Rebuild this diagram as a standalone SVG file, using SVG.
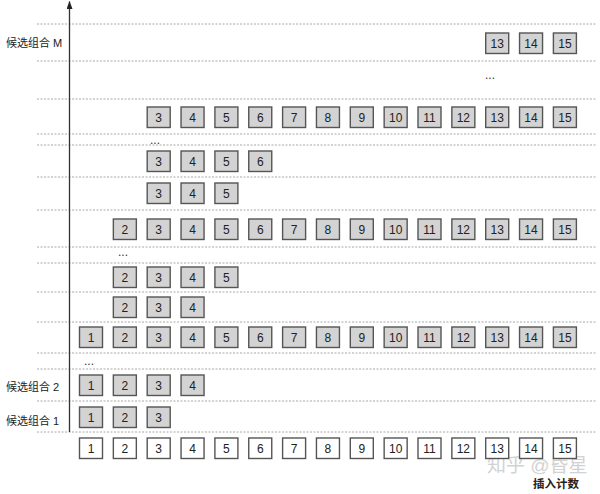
<svg xmlns="http://www.w3.org/2000/svg" width="600" height="494" viewBox="0 0 600 494">
<defs>
<style>
.grid line{stroke:#a8a8a8;stroke-width:1;stroke-dasharray:2 1.5}
.b rect{fill:#d3d3d3;stroke:#555;stroke-width:1.4}
.w rect{fill:#fff;stroke:#555;stroke-width:1.4}
text{font-family:"Liberation Sans",Arial,"Noto Sans CJK SC",sans-serif;fill:#222}
.n{font-size:12px;text-anchor:middle}
.lbl{font-size:11px}
.dots{font-size:12px;fill:#333}
</style>
<marker id="arr" markerWidth="8" markerHeight="6" refX="7.5" refY="3" orient="auto" markerUnits="userSpaceOnUse"><path d="M0,0 L8,3 L0,6 Z" fill="#222"/></marker>
</defs>
<rect width="600" height="494" fill="#fff"/>
<g id="grid" class="grid">
<line x1="37" y1="24" x2="597" y2="24"/>
<line x1="37" y1="61" x2="597" y2="61"/>
<line x1="37" y1="99" x2="597" y2="99"/>
<line x1="37" y1="134" x2="597" y2="134"/>
<line x1="37" y1="145" x2="597" y2="145"/>
<line x1="37" y1="177" x2="597" y2="177"/>
<line x1="37" y1="210" x2="597" y2="210"/>
<line x1="37" y1="247" x2="597" y2="247"/>
<line x1="37" y1="263" x2="597" y2="263"/>
<line x1="37" y1="292" x2="597" y2="292"/>
<line x1="37" y1="322" x2="597" y2="322"/>
<line x1="37" y1="353" x2="597" y2="353"/>
<line x1="37" y1="369" x2="597" y2="369"/>
<line x1="37" y1="401" x2="597" y2="401"/>
<line x1="37" y1="432" x2="597" y2="432"/>
</g>
<g id="connectors">
<line x1="69.5" y1="432" x2="69.5" y2="1.5" stroke="#333" stroke-width="1.3" marker-end="url(#arr)"/>
</g>
<g id="labels">
<text class="lbl" x="6" y="47">候选组合 M</text>
<text class="lbl" x="6" y="391">候选组合 2</text>
<text class="lbl" x="6" y="425">候选组合 1</text>
<text class="lbl" x="533" y="488" style="font-size:11.5px;font-weight:bold;fill:#222">插入计数</text>
<text x="487" y="472" style="font-size:19px;fill:#d2d2d2">知乎 @昏星</text>
<text class="dots" x="485" y="79">...</text>
<text class="dots" x="150" y="144">...</text>
<text class="dots" x="118" y="256">...</text>
<text class="dots" x="84" y="365">...</text>
</g>
<g id="rowM" class="b">
<rect x="485.7" y="33" width="23" height="20.5"/><text class="n" x="497.2" y="47.5">13</text>
<rect x="519.55" y="33" width="23" height="20.5"/><text class="n" x="531.05" y="47.5">14</text>
<rect x="553.4" y="33" width="23" height="20.5"/><text class="n" x="564.9" y="47.5">15</text>
</g>
<g id="row3to15" class="b">
<rect x="147.2" y="107" width="23" height="20.5"/><text class="n" x="158.7" y="121.5">3</text>
<rect x="181.05" y="107" width="23" height="20.5"/><text class="n" x="192.55" y="121.5">4</text>
<rect x="214.9" y="107" width="23" height="20.5"/><text class="n" x="226.4" y="121.5">5</text>
<rect x="248.75" y="107" width="23" height="20.5"/><text class="n" x="260.25" y="121.5">6</text>
<rect x="282.6" y="107" width="23" height="20.5"/><text class="n" x="294.1" y="121.5">7</text>
<rect x="316.45" y="107" width="23" height="20.5"/><text class="n" x="327.95" y="121.5">8</text>
<rect x="350.3" y="107" width="23" height="20.5"/><text class="n" x="361.8" y="121.5">9</text>
<rect x="384.15" y="107" width="23" height="20.5"/><text class="n" x="395.65" y="121.5">10</text>
<rect x="418" y="107" width="23" height="20.5"/><text class="n" x="429.5" y="121.5">11</text>
<rect x="451.85" y="107" width="23" height="20.5"/><text class="n" x="463.35" y="121.5">12</text>
<rect x="485.7" y="107" width="23" height="20.5"/><text class="n" x="497.2" y="121.5">13</text>
<rect x="519.55" y="107" width="23" height="20.5"/><text class="n" x="531.05" y="121.5">14</text>
<rect x="553.4" y="107" width="23" height="20.5"/><text class="n" x="564.9" y="121.5">15</text>
</g>
<g id="row3to6" class="b">
<rect x="147.2" y="151" width="23" height="20.5"/><text class="n" x="158.7" y="165.5">3</text>
<rect x="181.05" y="151" width="23" height="20.5"/><text class="n" x="192.55" y="165.5">4</text>
<rect x="214.9" y="151" width="23" height="20.5"/><text class="n" x="226.4" y="165.5">5</text>
<rect x="248.75" y="151" width="23" height="20.5"/><text class="n" x="260.25" y="165.5">6</text>
</g>
<g id="row3to5" class="b">
<rect x="147.2" y="183" width="23" height="20.5"/><text class="n" x="158.7" y="197.5">3</text>
<rect x="181.05" y="183" width="23" height="20.5"/><text class="n" x="192.55" y="197.5">4</text>
<rect x="214.9" y="183" width="23" height="20.5"/><text class="n" x="226.4" y="197.5">5</text>
</g>
<g id="row2to15" class="b">
<rect x="113.35" y="219" width="23" height="20.5"/><text class="n" x="124.85" y="233.5">2</text>
<rect x="147.2" y="219" width="23" height="20.5"/><text class="n" x="158.7" y="233.5">3</text>
<rect x="181.05" y="219" width="23" height="20.5"/><text class="n" x="192.55" y="233.5">4</text>
<rect x="214.9" y="219" width="23" height="20.5"/><text class="n" x="226.4" y="233.5">5</text>
<rect x="248.75" y="219" width="23" height="20.5"/><text class="n" x="260.25" y="233.5">6</text>
<rect x="282.6" y="219" width="23" height="20.5"/><text class="n" x="294.1" y="233.5">7</text>
<rect x="316.45" y="219" width="23" height="20.5"/><text class="n" x="327.95" y="233.5">8</text>
<rect x="350.3" y="219" width="23" height="20.5"/><text class="n" x="361.8" y="233.5">9</text>
<rect x="384.15" y="219" width="23" height="20.5"/><text class="n" x="395.65" y="233.5">10</text>
<rect x="418" y="219" width="23" height="20.5"/><text class="n" x="429.5" y="233.5">11</text>
<rect x="451.85" y="219" width="23" height="20.5"/><text class="n" x="463.35" y="233.5">12</text>
<rect x="485.7" y="219" width="23" height="20.5"/><text class="n" x="497.2" y="233.5">13</text>
<rect x="519.55" y="219" width="23" height="20.5"/><text class="n" x="531.05" y="233.5">14</text>
<rect x="553.4" y="219" width="23" height="20.5"/><text class="n" x="564.9" y="233.5">15</text>
</g>
<g id="row2to5" class="b">
<rect x="113.35" y="267" width="23" height="20.5"/><text class="n" x="124.85" y="281.5">2</text>
<rect x="147.2" y="267" width="23" height="20.5"/><text class="n" x="158.7" y="281.5">3</text>
<rect x="181.05" y="267" width="23" height="20.5"/><text class="n" x="192.55" y="281.5">4</text>
<rect x="214.9" y="267" width="23" height="20.5"/><text class="n" x="226.4" y="281.5">5</text>
</g>
<g id="row2to4" class="b">
<rect x="113.35" y="297" width="23" height="20.5"/><text class="n" x="124.85" y="311.5">2</text>
<rect x="147.2" y="297" width="23" height="20.5"/><text class="n" x="158.7" y="311.5">3</text>
<rect x="181.05" y="297" width="23" height="20.5"/><text class="n" x="192.55" y="311.5">4</text>
</g>
<g id="row1to15" class="b">
<rect x="79.5" y="327" width="23" height="20.5"/><text class="n" x="91" y="341.5">1</text>
<rect x="113.35" y="327" width="23" height="20.5"/><text class="n" x="124.85" y="341.5">2</text>
<rect x="147.2" y="327" width="23" height="20.5"/><text class="n" x="158.7" y="341.5">3</text>
<rect x="181.05" y="327" width="23" height="20.5"/><text class="n" x="192.55" y="341.5">4</text>
<rect x="214.9" y="327" width="23" height="20.5"/><text class="n" x="226.4" y="341.5">5</text>
<rect x="248.75" y="327" width="23" height="20.5"/><text class="n" x="260.25" y="341.5">6</text>
<rect x="282.6" y="327" width="23" height="20.5"/><text class="n" x="294.1" y="341.5">7</text>
<rect x="316.45" y="327" width="23" height="20.5"/><text class="n" x="327.95" y="341.5">8</text>
<rect x="350.3" y="327" width="23" height="20.5"/><text class="n" x="361.8" y="341.5">9</text>
<rect x="384.15" y="327" width="23" height="20.5"/><text class="n" x="395.65" y="341.5">10</text>
<rect x="418" y="327" width="23" height="20.5"/><text class="n" x="429.5" y="341.5">11</text>
<rect x="451.85" y="327" width="23" height="20.5"/><text class="n" x="463.35" y="341.5">12</text>
<rect x="485.7" y="327" width="23" height="20.5"/><text class="n" x="497.2" y="341.5">13</text>
<rect x="519.55" y="327" width="23" height="20.5"/><text class="n" x="531.05" y="341.5">14</text>
<rect x="553.4" y="327" width="23" height="20.5"/><text class="n" x="564.9" y="341.5">15</text>
</g>
<g id="row1to4" class="b">
<rect x="79.5" y="375" width="23" height="20.5"/><text class="n" x="91" y="389.5">1</text>
<rect x="113.35" y="375" width="23" height="20.5"/><text class="n" x="124.85" y="389.5">2</text>
<rect x="147.2" y="375" width="23" height="20.5"/><text class="n" x="158.7" y="389.5">3</text>
<rect x="181.05" y="375" width="23" height="20.5"/><text class="n" x="192.55" y="389.5">4</text>
</g>
<g id="row1to3" class="b">
<rect x="79.5" y="407" width="23" height="20.5"/><text class="n" x="91" y="421.5">1</text>
<rect x="113.35" y="407" width="23" height="20.5"/><text class="n" x="124.85" y="421.5">2</text>
<rect x="147.2" y="407" width="23" height="20.5"/><text class="n" x="158.7" y="421.5">3</text>
</g>
<g id="rowCount" class="w">
<rect x="79.5" y="438" width="23" height="20.5"/><text class="n" x="91" y="452.5">1</text>
<rect x="113.35" y="438" width="23" height="20.5"/><text class="n" x="124.85" y="452.5">2</text>
<rect x="147.2" y="438" width="23" height="20.5"/><text class="n" x="158.7" y="452.5">3</text>
<rect x="181.05" y="438" width="23" height="20.5"/><text class="n" x="192.55" y="452.5">4</text>
<rect x="214.9" y="438" width="23" height="20.5"/><text class="n" x="226.4" y="452.5">5</text>
<rect x="248.75" y="438" width="23" height="20.5"/><text class="n" x="260.25" y="452.5">6</text>
<rect x="282.6" y="438" width="23" height="20.5"/><text class="n" x="294.1" y="452.5">7</text>
<rect x="316.45" y="438" width="23" height="20.5"/><text class="n" x="327.95" y="452.5">8</text>
<rect x="350.3" y="438" width="23" height="20.5"/><text class="n" x="361.8" y="452.5">9</text>
<rect x="384.15" y="438" width="23" height="20.5"/><text class="n" x="395.65" y="452.5">10</text>
<rect x="418" y="438" width="23" height="20.5"/><text class="n" x="429.5" y="452.5">11</text>
<rect x="451.85" y="438" width="23" height="20.5"/><text class="n" x="463.35" y="452.5">12</text>
<rect x="485.7" y="438" width="23" height="20.5"/><text class="n" x="497.2" y="452.5">13</text>
<rect x="519.55" y="438" width="23" height="20.5"/><text class="n" x="531.05" y="452.5">14</text>
<rect x="553.4" y="438" width="23" height="20.5"/><text class="n" x="564.9" y="452.5">15</text>
</g>
</svg>
